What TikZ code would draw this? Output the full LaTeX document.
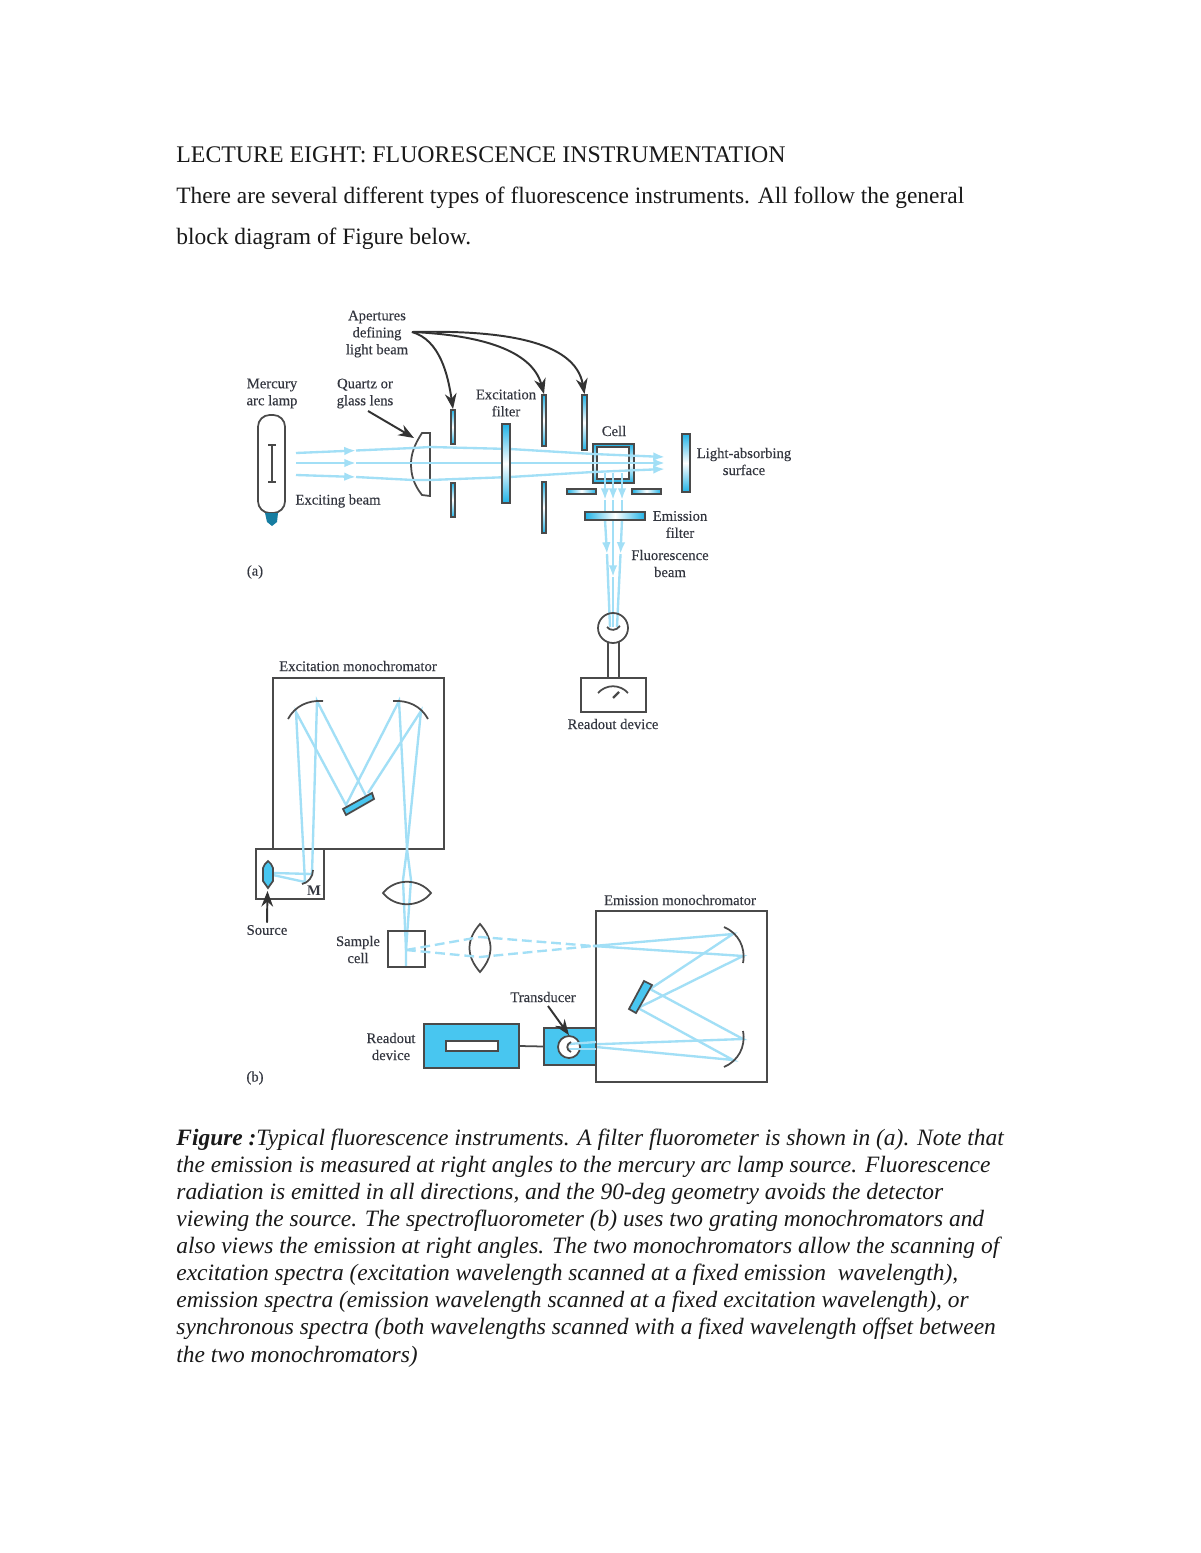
\documentclass[tikz,border=0pt]{standalone}
\usepackage{fontspec}
\setmainfont{Liberation Serif}
\newfontfamily\labfont[FakeBold=0.25]{Liberation Serif}
\usepackage{xcolor}
\usetikzlibrary{
  arrows.meta,
  shapes.geometric
}
\definecolor{raycol}{HTML}{A2DFF6}
\definecolor{optblue}{HTML}{1FB2E6}
\definecolor{solidblue}{HTML}{48C6F0}
\definecolor{edgecol}{HTML}{4A4A4A}
\definecolor{labelcol}{HTML}{33363F}
\newcommand{\pxw}{0.17992mm}

\begin{document}
\begin{tikzpicture}[
  x=0.17992mm,
  y=-0.17992mm,
  pagetext/.style={
    anchor=base west,
    inner sep=0pt,
    font=\fontsize{12}{14}\selectfont,
    text=black!90
  },
  lab/.style={
    align=center,
    inner sep=1pt,
    font=\labfont\fontsize{7.5}{8.7}\selectfont,
    text=labelcol
  },
  ray/.style={
    draw=raycol,
    line width=1.2pt
  },
  rayhead/.style={
    ray,
    -{Latex[length=6pt,width=4.4pt,fill=raycol]}
  },
  dashray/.style={
    ray,
    dash pattern=on 5pt off 2.5pt
  },
  outline/.style={
    draw=edgecol,
    line width=0.9pt
  },
  pointer/.style={
    draw=black!80,
    line width=1pt,
    -{Stealth[length=8pt,width=6pt]}
  },
  vertoptic/.style={
    rectangle,
    outline,
    inner sep=0pt,
    top color=optblue,
    bottom color=optblue,
    middle color=white
  },
  horizoptic/.style={
    rectangle,
    outline,
    inner sep=0pt,
    left color=optblue,
    right color=optblue,
    middle color=white
  },
  solidbox/.style={
    rectangle,
    outline,
    inner sep=0pt,
    fill=solidblue
  },
  plainbox/.style={
    rectangle,
    outline,
    inner sep=0pt
  }
]
\useasboundingbox (0,0) rectangle (1200,1553);
\fill[white] (0,0) rectangle (1200,1553);

% Page text
\node[pagetext, font=\fontsize{12.2}{14}\selectfont] (title) at (176,163) {LECTURE EIGHT: FLUORESCENCE INSTRUMENTATION};
\node[pagetext] (introa) at (176,204) {There are several different types of fluorescence instruments. All follow the general};
\node[pagetext] (introb) at (176,245) {block diagram of Figure below.};

\node[pagetext] (capa) at (176,1145) {\textbf{\textit{Figure :}}\textit{Typical fluorescence instruments. A filter fluorometer is shown in (a). Note that}};
\node[pagetext] (capb) at (176,1172) {\textit{the emission is measured at right angles to the mercury arc lamp source. Fluorescence}};
\node[pagetext] (capc) at (176,1199) {\textit{radiation is emitted in all directions, and the 90-deg geometry avoids the detector}};
\node[pagetext] (capd) at (176,1226) {\textit{viewing the source. The spectrofluorometer (b) uses two grating monochromators and}};
\node[pagetext] (cape) at (176,1253) {\textit{also views the emission at right angles. The two monochromators allow the scanning of}};
\node[pagetext] (capf) at (176,1280) {\textit{excitation spectra (excitation wavelength scanned at a fixed emission\ \ wavelength),}};
\node[pagetext] (capg) at (176,1307) {\textit{emission spectra (emission wavelength scanned at a fixed excitation wavelength), or}};
\node[pagetext] (caph) at (176,1334) {\textit{synchronous spectra (both wavelengths scanned with a fixed wavelength offset between}};
\node[pagetext] (capi) at (176,1362) {\textit{the two monochromators)}};

% Part (a): lamp
\node[rectangle, rounded corners=6pt, outline, minimum width=27*\pxw, minimum height=98*\pxw, inner sep=0pt] (lamp) at (271.5,464) {};
\fill[optblue!70!black] (265,513) -- (278,513) -- (277,522) -- (272,526) -- (267,522) -- cycle;
\draw[outline] (272,445) -- (272,482) (268,445) -- (276,445) (268,482) -- (276,482);

% Part (a): lens
\draw[outline] (430,433) -- (422,433) .. controls (414,445) and (411,455) .. (411,464) .. controls (411,475) and (414,485) .. (422,495) -- (430,496) -- cycle;

% Part (a): cell
\node[rectangle, outline, inner sep=0pt, minimum width=41*\pxw, minimum height=39*\pxw, top color=optblue, bottom color=optblue, middle color=white] (cell) at (613.5,463.5) {};
\node[plainbox, fill=white, minimum width=32*\pxw, minimum height=32*\pxw] (cellin) at (613,463) {};

% Part (a): exciting beam
\draw[rayhead] (296,453) -- (356,450.5);
\draw[ray] (356,450.5) -- (413,448) -- (430,447) -- (510,449) -- (593,454);
\draw[rayhead] (593,454) -- (665,457);
\draw[rayhead] (296,463) -- (356,463);
\draw[ray] (356,463) -- (593,463);
\draw[rayhead] (593,463) -- (665,463);
\draw[rayhead] (296,475) -- (356,477);
\draw[ray] (356,477) -- (413,480) -- (430,480) -- (510,477) -- (593,472);
\draw[rayhead] (593,472) -- (665,469);

% Part (a): fluorescence beam
\draw[rayhead] (605,473) -- (605,500);
\draw[rayhead] (613,473) -- (613,500);
\draw[rayhead] (622,473) -- (622,500);
\draw[ray] (605,500) -- (605,512);
\draw[ray] (613,500) -- (613,512);
\draw[ray] (622,500) -- (622,512);
\draw[rayhead] (605,520) -- (607,554);
\draw[ray] (607,554) -- (610,627);
\draw[rayhead] (613,520) -- (613,577);
\draw[ray] (613,577) -- (613,627);
\draw[rayhead] (622,520) -- (620.5,554);
\draw[ray] (620.5,554) -- (617,627);

% Part (a): apertures, filters
\node[vertoptic, minimum width=4*\pxw, minimum height=34*\pxw] (apa) at (453,427) {};
\node[vertoptic, minimum width=4*\pxw, minimum height=34*\pxw] (apb) at (453,500) {};
\node[vertoptic, minimum width=8*\pxw, minimum height=79*\pxw] (exfilter) at (506,463.5) {};
\node[vertoptic, minimum width=4*\pxw, minimum height=51*\pxw] (apc) at (544,420.5) {};
\node[vertoptic, minimum width=4*\pxw, minimum height=51*\pxw] (apd) at (544,507.5) {};
\node[vertoptic, minimum width=5*\pxw, minimum height=55*\pxw] (ape) at (584.5,422.5) {};
\node[vertoptic, minimum width=8*\pxw, minimum height=58*\pxw] (absorber) at (686,463) {};
\node[horizoptic, minimum width=29*\pxw, minimum height=5*\pxw] (slita) at (581.5,491.5) {};
\node[horizoptic, minimum width=29*\pxw, minimum height=5*\pxw] (slitb) at (646.5,491.5) {};
\node[horizoptic, minimum width=60*\pxw, minimum height=8*\pxw] (emfilter) at (615,516) {};

% Part (a): detector and readout
\node[circle, outline, minimum size=30*\pxw, inner sep=0pt] (tube) at (613,628) {};
\draw[outline] (607,627) .. controls (610,631) and (616,631) .. (620,626);
\node[plainbox, minimum width=65*\pxw, minimum height=34*\pxw] (meter) at (613.5,695) {};
\draw[outline] (608,642) -- (608,678);
\draw[outline] (619,642) -- (619,678);
\draw[outline] (598,693) .. controls (606,684) and (620,684) .. (628,693);
\draw[outline, line width=1.1pt] (613,698) -- (619,692);

% Part (a): labels
\node[lab] (aperlab) at (377,334) {Apertures\\defining\\light beam};
\node[lab] (lamplab) at (272,393.5) {Mercury\\arc lamp};
\node[lab] (lenslab) at (365,393.5) {Quartz or\\glass lens};
\node[lab] (exflab) at (506,403) {Excitation\\filter};
\node[lab] (celllab) at (614,431) {Cell};
\node[lab] (abslab) at (744,461.5) {Light-absorbing\\surface};
\node[lab] (emflab) at (680,524.5) {Emission\\filter};
\node[lab] (fluolab) at (670,563.5) {Fluorescence\\beam};
\node[lab] (beamlab) at (338,501) {Exciting beam};
\node[lab] (alab) at (255,572) {(a)};
\node[lab] (readlab) at (613,724) {Readout device};

% Part (a): pointers
\coordinate (aperout) at (412,332);
\coordinate (lensin) at (414,438);
\draw[pointer] (aperout) .. controls (440,340) and (448,375) .. (apa.north);
\draw[pointer] (aperout) .. controls (480,335) and (532,350) .. (apc.north);
\draw[pointer] (aperout) .. controls (500,330) and (575,340) .. (ape.north);
\draw[pointer] (368,411) -- (lensin);

% Part (b): excitation monochromator
\node[plainbox, minimum width=171*\pxw, minimum height=171*\pxw, line width=1.1pt] (exmono) at (358.5,763.5) {};
\node[plainbox, minimum width=68*\pxw, minimum height=50*\pxw, line width=1.1pt] (srcbox) at (290,874) {};
\draw[ray] (273,873) -- (312,874) -- (317,701) -- (366,796);
\draw[ray] (273,875) -- (305,882) -- (296,712) -- (346,805) -- (399,701) -- (407,849);
\draw[ray] (368,793) -- (421,711) -- (407,849);
\draw[ray] (407,849) -- (403,880) -- (406,950) -- (406,967);
\draw[ray] (407,849) -- (411,880) -- (406,950);
\draw[outline] (288,719) .. controls (295,706) and (308,700) .. (323,701);
\draw[outline] (393,701) .. controls (408,700) and (421,706) .. (428,719);
\draw[outline, fill=solidblue] (343,809) -- (372,793) -- (374,799) -- (346,815) -- cycle;
\draw[outline] (313,870) .. controls (313,877) and (308,883) .. (302,884);
\draw[outline, fill=solidblue] (265,864) -- (268,861) -- (271,864) -- (273,868) -- (273,881) -- (268,888) -- (263,881) -- (263,868) -- cycle;
\node[lab, font=\fontsize{7.5}{8.7}\selectfont\bfseries] (mlab) at (314,891) {M};
\node[lab] (exmlab) at (358,666) {Excitation monochromator};
\node[lab] (srclab) at (267,930) {Source};
\draw[pointer] (srclab.north) -- (267.5,891);

% Part (b): sample
\node[plainbox, minimum width=37*\pxw, minimum height=36*\pxw] (sample) at (406.5,949) {};
\draw[outline] (383,893) .. controls (395,878) and (419,878) .. (431,893) .. controls (419,908) and (395,908) .. (383,893) -- cycle;
\draw[outline] (480,924) .. controls (466,940) and (466,956) .. (480,972) .. controls (494,956) and (494,940) .. (480,924) -- cycle;
\node[lab] (samplab) at (358,949.5) {Sample\\cell};

% Part (b): emission monochromator
\node[plainbox, minimum width=171*\pxw, minimum height=171*\pxw, line width=1.1pt] (emmono) at (681.5,996.5) {};
\draw[dashray] (406,950) -- (480,937) -- (593,946);
\draw[dashray] (406,950) -- (480,957) -- (593,946);
\draw[ray] (593,946) -- (733,934) -- (650,989) -- (743,1039) -- (575,1045);
\draw[ray] (593,946) -- (743,956) -- (638,1008) -- (733,1060) -- (575,1045);
\draw[outline] (724,927) .. controls (738,933) and (746,947) .. (743,963);
\draw[outline] (743,1031) .. controls (746,1047) and (738,1061) .. (724,1067);
\draw[outline, fill=solidblue] (644,981) -- (652,985) -- (636,1013) -- (629,1009) -- cycle;
\node[lab] (emmlab) at (680,900) {Emission monochromator};

% Part (b): transducer and readout
\node[solidbox, minimum width=52*\pxw, minimum height=37*\pxw] (transbox) at (570,1046.5) {};
\node[circle, outline, fill=white, minimum size=22*\pxw, inner sep=0pt] (transd) at (569,1047) {};
\draw[ray] (569,1044) -- (596,1042);
\draw[ray] (569,1049) -- (596,1049);
\draw[outline] (571,1042) .. controls (566,1044) and (566,1050) .. (571,1052);
\node[solidbox, minimum width=95*\pxw, minimum height=44*\pxw] (readbox) at (471.5,1046) {};
\node[plainbox, fill=white, minimum width=52*\pxw, minimum height=10*\pxw] (readslit) at (472,1046) {};
\draw[outline] (readbox.east) -- (transbox.west);
\node[lab] (translab) at (543,997) {Transducer};
\node[lab] (readblab) at (391,1046.5) {Readout\\device};
\node[lab] (blab) at (255,1078) {(b)};
\draw[pointer] (548,1006) -- (transd.north);

\end{tikzpicture}
\end{document}
